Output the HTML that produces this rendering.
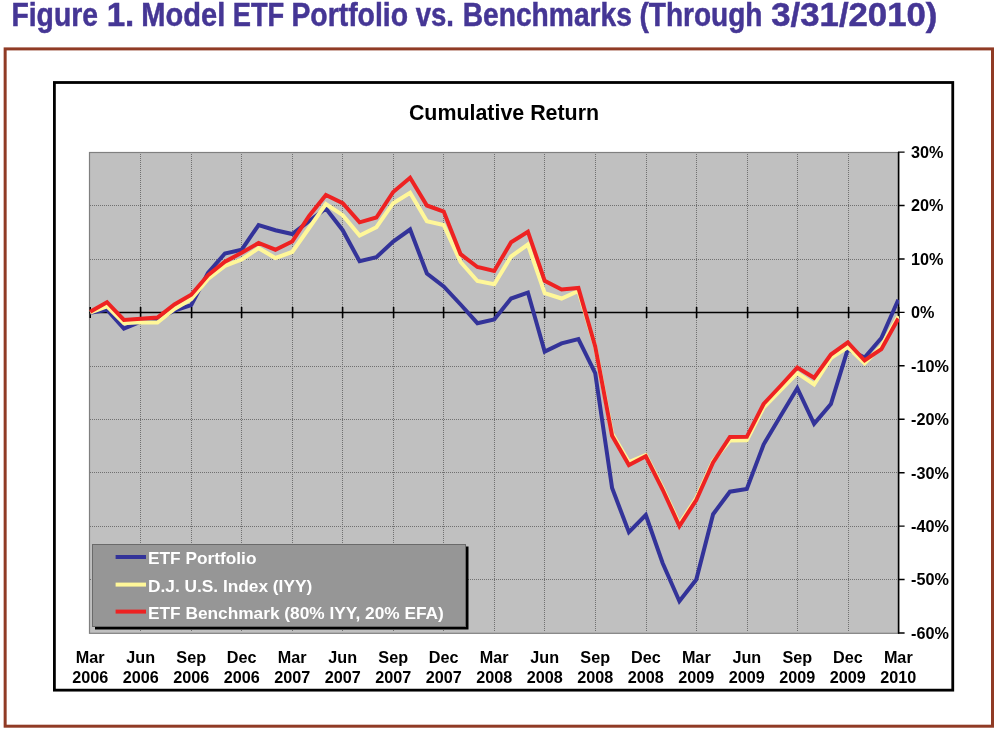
<!DOCTYPE html>
<html><head><meta charset="utf-8"><style>
html,body{margin:0;padding:0;background:#fff;width:1000px;height:734px;overflow:hidden}
svg{display:block;will-change:transform}
.b{font-family:"Liberation Sans",sans-serif;font-weight:bold}
.t{font-family:"Liberation Sans",sans-serif;font-weight:bold;fill:#453695;stroke:#453695;stroke-width:0.5px}
</style></head><body>
<svg width="1000" height="734" viewBox="0 0 1000 734">
<rect x="5.15" y="48.9" width="987.35" height="677.3" fill="none" stroke="#903b25" stroke-width="3"/>
<rect x="54.4" y="82.5" width="898.35" height="607.65" fill="none" stroke="#000" stroke-width="2.8"/>
<text class="t" transform="translate(11.40 25.6) scale(0.8588 1)" font-size="33.0">Figure</text>
<text class="t" transform="translate(106.71 25.6) scale(1.0036 1)" font-size="33.0">1.</text>
<text class="t" transform="translate(141.35 25.6) scale(0.8812 1)" font-size="33.0">Model</text>
<text class="t" transform="translate(232.72 25.6) scale(0.8276 1)" font-size="33.0">ETF</text>
<text class="t" transform="translate(291.40 25.6) scale(0.8607 1)" font-size="33.0">Portfolio</text>
<text class="t" transform="translate(415.69 25.6) scale(0.8341 1)" font-size="33.0">vs.</text>
<text class="t" transform="translate(462.66 25.6) scale(0.8546 1)" font-size="33.0">Benchmarks</text>
<text class="t" transform="translate(639.40 25.6) scale(0.8506 1)" font-size="33.0">(Through</text>
<text class="t" transform="translate(771.25 25.6) scale(1.0538 1)" font-size="33.0">3/31/2010)</text>
<text x="504" y="119.6" text-anchor="middle" class="b" font-size="21.4">Cumulative Return</text>
<rect x="89.5" y="152.5" width="809.0" height="480.8" fill="#c0c0c0" stroke="#808080" stroke-width="1.2"/>
<defs><pattern id="dv" x="0" y="0" width="1" height="2" patternUnits="userSpaceOnUse"><rect width="1" height="1" fill="#707070"/></pattern><pattern id="dh" x="0" y="0" width="2" height="1" patternUnits="userSpaceOnUse"><rect width="1" height="1" fill="#707070"/></pattern></defs>
<rect x="90" y="205" width="808" height="1" fill="url(#dh)" shape-rendering="crispEdges"/>
<rect x="90" y="259" width="808" height="1" fill="url(#dh)" shape-rendering="crispEdges"/>
<rect x="90" y="366" width="808" height="1" fill="url(#dh)" shape-rendering="crispEdges"/>
<rect x="90" y="419" width="808" height="1" fill="url(#dh)" shape-rendering="crispEdges"/>
<rect x="90" y="472" width="808" height="1" fill="url(#dh)" shape-rendering="crispEdges"/>
<rect x="90" y="526" width="808" height="1" fill="url(#dh)" shape-rendering="crispEdges"/>
<rect x="90" y="579" width="808" height="1" fill="url(#dh)" shape-rendering="crispEdges"/>
<rect x="140" y="153" width="1" height="479" fill="url(#dv)" shape-rendering="crispEdges"/>
<rect x="191" y="153" width="1" height="479" fill="url(#dv)" shape-rendering="crispEdges"/>
<rect x="241" y="153" width="1" height="479" fill="url(#dv)" shape-rendering="crispEdges"/>
<rect x="292" y="153" width="1" height="479" fill="url(#dv)" shape-rendering="crispEdges"/>
<rect x="342" y="153" width="1" height="479" fill="url(#dv)" shape-rendering="crispEdges"/>
<rect x="393" y="153" width="1" height="479" fill="url(#dv)" shape-rendering="crispEdges"/>
<rect x="443" y="153" width="1" height="479" fill="url(#dv)" shape-rendering="crispEdges"/>
<rect x="494" y="153" width="1" height="479" fill="url(#dv)" shape-rendering="crispEdges"/>
<rect x="544" y="153" width="1" height="479" fill="url(#dv)" shape-rendering="crispEdges"/>
<rect x="595" y="153" width="1" height="479" fill="url(#dv)" shape-rendering="crispEdges"/>
<rect x="646" y="153" width="1" height="479" fill="url(#dv)" shape-rendering="crispEdges"/>
<rect x="696" y="153" width="1" height="479" fill="url(#dv)" shape-rendering="crispEdges"/>
<rect x="747" y="153" width="1" height="479" fill="url(#dv)" shape-rendering="crispEdges"/>
<rect x="797" y="153" width="1" height="479" fill="url(#dv)" shape-rendering="crispEdges"/>
<rect x="848" y="153" width="1" height="479" fill="url(#dv)" shape-rendering="crispEdges"/>
<path d="M89.5 312.5H898.5" stroke="#000" stroke-width="1.6"/>
<path d="M90.2 307V318 M140.6 307V318 M191.6 307V318 M241.6 307V318 M292.6 307V318 M342.6 307V318 M393.6 307V318 M443.6 307V318 M494.6 307V318 M544.6 307V318 M595.6 307V318 M646.6 307V318 M696.6 307V318 M747.6 307V318 M797.6 307V318 M848.6 307V318 M898.6 307V318" stroke="#000" stroke-width="1.6"/>
<path d="M898.6 152V633.5" stroke="#000" stroke-width="1.6"/>
<path d="M898 152.1H904.6 M898 205.5H904.6 M898 259.0H904.6 M898 312.4H904.6 M898 365.8H904.6 M898 419.3H904.6 M898 472.7H904.6 M898 526.1H904.6 M898 579.5H904.6 M898 633.0H904.6" stroke="#000" stroke-width="1.4"/>
<text x="911" y="157.9" class="b" font-size="16.2">30%</text>
<text x="911" y="211.3" class="b" font-size="16.2">20%</text>
<text x="911" y="264.8" class="b" font-size="16.2">10%</text>
<text x="911" y="318.2" class="b" font-size="16.2">0%</text>
<text x="911" y="371.6" class="b" font-size="16.2">-10%</text>
<text x="911" y="425.1" class="b" font-size="16.2">-20%</text>
<text x="911" y="478.5" class="b" font-size="16.2">-30%</text>
<text x="911" y="531.9" class="b" font-size="16.2">-40%</text>
<text x="911" y="585.3" class="b" font-size="16.2">-50%</text>
<text x="911" y="638.8" class="b" font-size="16.2">-60%</text>
<text x="90.2" y="662.7" text-anchor="middle" class="b" font-size="16.2">Mar</text>
<text x="90.2" y="682.8" text-anchor="middle" class="b" font-size="16.2">2006</text>
<text x="140.7" y="662.7" text-anchor="middle" class="b" font-size="16.2">Jun</text>
<text x="140.7" y="682.8" text-anchor="middle" class="b" font-size="16.2">2006</text>
<text x="191.2" y="662.7" text-anchor="middle" class="b" font-size="16.2">Sep</text>
<text x="191.2" y="682.8" text-anchor="middle" class="b" font-size="16.2">2006</text>
<text x="241.7" y="662.7" text-anchor="middle" class="b" font-size="16.2">Dec</text>
<text x="241.7" y="682.8" text-anchor="middle" class="b" font-size="16.2">2006</text>
<text x="292.2" y="662.7" text-anchor="middle" class="b" font-size="16.2">Mar</text>
<text x="292.2" y="682.8" text-anchor="middle" class="b" font-size="16.2">2007</text>
<text x="342.7" y="662.7" text-anchor="middle" class="b" font-size="16.2">Jun</text>
<text x="342.7" y="682.8" text-anchor="middle" class="b" font-size="16.2">2007</text>
<text x="393.2" y="662.7" text-anchor="middle" class="b" font-size="16.2">Sep</text>
<text x="393.2" y="682.8" text-anchor="middle" class="b" font-size="16.2">2007</text>
<text x="443.7" y="662.7" text-anchor="middle" class="b" font-size="16.2">Dec</text>
<text x="443.7" y="682.8" text-anchor="middle" class="b" font-size="16.2">2007</text>
<text x="494.2" y="662.7" text-anchor="middle" class="b" font-size="16.2">Mar</text>
<text x="494.2" y="682.8" text-anchor="middle" class="b" font-size="16.2">2008</text>
<text x="544.7" y="662.7" text-anchor="middle" class="b" font-size="16.2">Jun</text>
<text x="544.7" y="682.8" text-anchor="middle" class="b" font-size="16.2">2008</text>
<text x="595.2" y="662.7" text-anchor="middle" class="b" font-size="16.2">Sep</text>
<text x="595.2" y="682.8" text-anchor="middle" class="b" font-size="16.2">2008</text>
<text x="645.8" y="662.7" text-anchor="middle" class="b" font-size="16.2">Dec</text>
<text x="645.8" y="682.8" text-anchor="middle" class="b" font-size="16.2">2008</text>
<text x="696.3" y="662.7" text-anchor="middle" class="b" font-size="16.2">Mar</text>
<text x="696.3" y="682.8" text-anchor="middle" class="b" font-size="16.2">2009</text>
<text x="746.8" y="662.7" text-anchor="middle" class="b" font-size="16.2">Jun</text>
<text x="746.8" y="682.8" text-anchor="middle" class="b" font-size="16.2">2009</text>
<text x="797.3" y="662.7" text-anchor="middle" class="b" font-size="16.2">Sep</text>
<text x="797.3" y="682.8" text-anchor="middle" class="b" font-size="16.2">2009</text>
<text x="847.8" y="662.7" text-anchor="middle" class="b" font-size="16.2">Dec</text>
<text x="847.8" y="682.8" text-anchor="middle" class="b" font-size="16.2">2009</text>
<text x="898.3" y="662.7" text-anchor="middle" class="b" font-size="16.2">Mar</text>
<text x="898.3" y="682.8" text-anchor="middle" class="b" font-size="16.2">2010</text>
<clipPath id="pc"><rect x="89" y="152" width="810" height="481"/></clipPath>
<g fill="none" stroke-width="4" stroke-linejoin="miter" stroke-miterlimit="3" clip-path="url(#pc)">
<polyline points="90.2,312.7 107.0,309.7 123.9,328.5 140.7,321.7 157.5,319.5 174.4,310.5 191.2,305.2 208.0,273.0 224.9,253.5 241.7,249.7 258.6,225.0 275.4,230.2 292.2,234.0 309.1,221.2 325.9,208.5 342.7,230.2 359.6,261.3 376.4,257.2 393.2,241.5 410.1,229.5 426.9,273.5 443.7,286.5 460.6,304.5 477.4,323.2 494.2,319.5 511.1,298.5 527.9,292.5 544.7,351.6 561.6,343.4 578.4,339.0 595.2,373.0 612.1,488.0 628.9,532.2 645.8,515.0 662.6,563.0 679.4,601.2 696.3,579.5 713.1,514.2 729.9,491.7 746.8,489.0 763.6,444.5 780.4,416.3 797.3,388.2 814.1,423.8 830.9,404.0 847.8,349.2 864.6,357.5 881.4,338.0 898.3,299.7" stroke="#333399"/>
<polyline points="90.2,312.7 107.0,306.4 123.9,323.2 140.7,322.2 157.5,322.5 174.4,309.0 191.2,299.2 208.0,279.0 224.9,265.8 241.7,259.5 258.6,248.2 275.4,258.0 292.2,252.0 309.1,228.0 325.9,204.0 342.7,215.2 359.6,235.5 376.4,227.2 393.2,203.2 410.1,192.7 426.9,221.3 443.7,225.0 460.6,262.0 477.4,281.0 494.2,284.2 511.1,256.5 527.9,244.5 544.7,293.2 561.6,298.5 578.4,291.0 595.2,346.5 612.1,433.5 628.9,462.0 645.8,455.0 662.6,488.0 679.4,524.0 696.3,498.0 713.1,461.0 729.9,440.6 746.8,440.3 763.6,407.5 780.4,390.4 797.3,373.2 814.1,384.5 830.9,358.2 847.8,347.0 864.6,363.5 881.4,346.2 898.3,316.2" stroke="#fff799" />
<polyline points="90.2,311.7 107.0,302.2 123.9,319.9 140.7,318.7 157.5,317.5 174.4,304.5 191.2,294.7 208.0,275.2 224.9,261.7 241.7,252.7 258.6,243.0 275.4,249.7 292.2,241.5 309.1,216.0 325.9,195.0 342.7,203.2 359.6,222.3 376.4,217.5 393.2,192.0 410.1,177.7 426.9,205.5 443.7,211.5 460.6,254.2 477.4,267.0 494.2,271.0 511.1,242.2 527.9,231.7 544.7,280.8 561.6,289.5 578.4,288.0 595.2,346.4 612.1,435.7 628.9,465.0 645.8,456.3 662.6,489.5 679.4,526.0 696.3,500.0 713.1,462.5 729.9,437.0 746.8,436.8 763.6,404.0 780.4,386.0 797.3,367.6 814.1,377.8 830.9,354.5 847.8,342.5 864.6,360.5 881.4,349.2 898.3,318.5" stroke="#ee2222"/>
</g>
<rect x="95" y="546.5" width="373.5" height="83" fill="#000"/>
<rect x="92.5" y="544.5" width="373" height="82" fill="#969696" stroke="#6a6a6a" stroke-width="1"/>
<path d="M115.6 557H146" stroke="#333399" stroke-width="4"/>
<path d="M115.6 584.6H146" stroke="#fff799" stroke-width="4"/>
<path d="M115.6 611.6H146" stroke="#ee2222" stroke-width="4"/>
<text x="148" y="564.0" class="b" font-size="17.3" fill="#fff">ETF Portfolio</text>
<text x="148" y="591.6" class="b" font-size="17.3" fill="#fff">D.J. U.S. Index (IYY)</text>
<text x="148" y="619.0" class="b" font-size="17.3" fill="#fff">ETF Benchmark (80% IYY, 20% EFA)</text>
</svg>
</body></html>
